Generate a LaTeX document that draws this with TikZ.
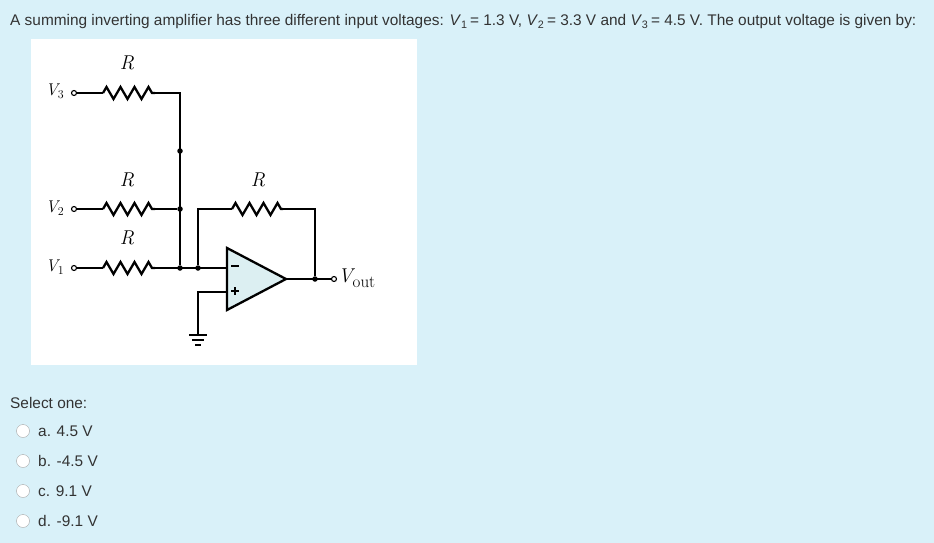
\documentclass[tikz,border=0pt]{standalone}
\usepackage{fontspec}
\setmainfont{Liberation Sans}
\usetikzlibrary{decorations.pathmorphing}
\definecolor{bg}{HTML}{D9F1F9}
\definecolor{txt}{HTML}{333333}
\definecolor{amp}{HTML}{DCEFF2}
\newcommand{\subv}[1]{\textit{V}\textsubscript{#1}}
\begin{document}
\begin{tikzpicture}[x=1pt,y=-1pt,
  wire/.style={line width=2.3pt},
  res/.style={line width=2.3pt,decorate,decoration={zigzag,segment length=14pt,amplitude=6pt}},
  term/.style={circle,draw,line width=1.1pt,fill=white,inner sep=0pt,minimum size=5pt},
  dotn/.style={circle,fill,inner sep=0pt,minimum size=5.5pt},
  lab/.style={font=\fontspec{Latin Modern Roman}\itshape\fontsize{20}{20}\selectfont},
  sm/.style={font=\fontspec{Latin Modern Roman}\itshape\fontsize{17}{17}\selectfont,inner sep=1pt},
  q/.style={text=txt,font=\fontsize{15.4}{17}\selectfont,anchor=west,inner sep=0pt},
  radio/.style={circle,draw=gray!70,fill=white,inner sep=0pt,minimum size=13pt}]
\useasboundingbox (0,0) rectangle (934,543);
\fill[bg] (0,0) rectangle (934,543);
\fill[white] (31,39) rectangle (417,365);
\node[q] (qq) at (10,22) {A summing inverting amplifier has three different input voltages: \subv{1}\,= 1.3 V, \subv{2}\,= 3.3 V and \subv{3}\,= 4.5 V. The output voltage is given by:};
\node[term] (t3) at (74,93) {};
\node[term] (t2) at (74,209) {};
\node[term] (t1) at (74,268) {};
\coordinate (a3) at (103,93); \coordinate (b3) at (155,93);
\coordinate (a2) at (103,209); \coordinate (b2) at (155,209);
\coordinate (a1) at (103,268); \coordinate (b1) at (155,268);
\coordinate (c3) at (180,93);
\node[dotn] (j0) at (180,151) {};
\node[dotn] (j2) at (180,209) {};
\node[dotn] (j1) at (180,268) {};
\node[dotn] (j4) at (198,268) {};
\coordinate (f0) at (198,209); \coordinate (af) at (232,209); \coordinate (bf) at (283,209); \coordinate (f1) at (315,209);
\node[dotn] (jo) at (315,279) {};
\node[term] (to) at (334,279) {};
\coordinate (m) at (227,268); \coordinate (p) at (227,292);
\coordinate (g0) at (198,292); \coordinate (g) at (198,335);
\coordinate (tip) at (286,279);
\draw[wire,fill=amp,line join=miter] (227,248) -- (tip) -- (227,310) -- cycle;
\draw[line width=1.8pt] (231,266) -- (239,266);
\draw[line width=1.8pt] (231,291) -- (239,291) (235,287) -- (235,295);
\foreach \i in {1,2,3}{
 \draw[wire] (t\i) -- (a\i);
 \draw[res] (a\i) -- (b\i);
}
\draw[wire] (b3) -- (c3) -- (j1);
\draw[wire] (b2) -- (j2);
\draw[wire] (b1) -- (m);
\draw[wire] (j4) -- (f0) -- (af);
\draw[res] (af) -- (bf);
\draw[wire] (bf) -- (f1) -- (jo);
\draw[wire] (tip) -- (to);
\draw[wire] (p) -- (g0) -- (g);
\draw[wire] (189,335) -- (207,335);
\draw[wire] (192,340) -- (204,340);
\draw[wire] (195,345) -- (201,345);
\node[lab] at (127,63) {R};
\node[lab] at (127,180) {R};
\node[lab] at (127,238) {R};
\node[lab] at (258,180) {R};
\node[sm] at (55,91) {V$_{3}$};
\node[sm] at (55,208) {V$_{2}$};
\node[sm] at (55,267) {V$_{1}$};
\node[lab,anchor=west,inner sep=0pt] at (338,278) {V{\upshape\fontsize{17}{17}\selectfont\raisebox{-5pt}{out}}};
\node[q] (s) at (10,403) {Select one:};
\foreach \y/\t in {431/a. 4.5 V,461/b. -4.5 V,491/c. 9.1 V,521/d. -9.1 V}{
 \node[radio] at (23,\y) {};
 \node[q] at (38,\y) {\t};
}
\end{tikzpicture}
\end{document}
